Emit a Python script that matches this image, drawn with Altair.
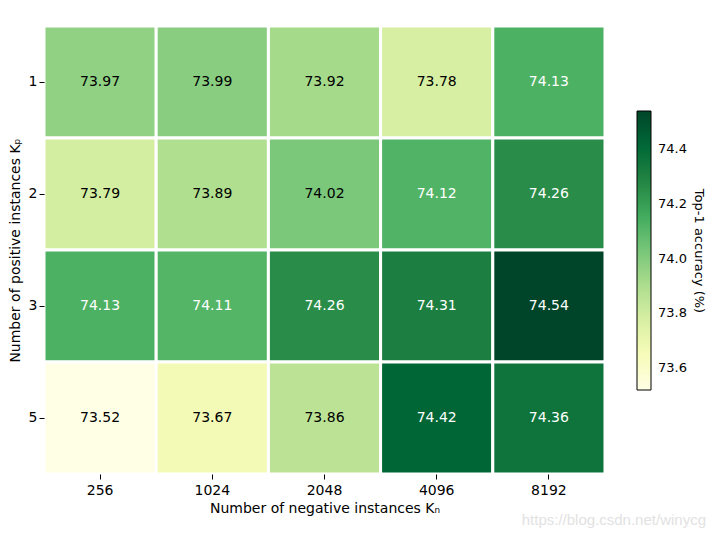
import altair as alt
import pandas as pd

negatives = ['256', '1024', '2048', '4096', '8192']
positives = ['1', '2', '3', '5']
acc_k1 = [73.97, 73.99, 73.92, 73.78, 74.13]
acc_k2 = [73.79, 73.89, 74.02, 74.12, 74.26]
acc_k3 = [74.13, 74.11, 74.26, 74.31, 74.54]
acc_k5 = [73.52, 73.67, 73.86, 74.42, 74.36]

# matplotlib YlGn
ylgn = ['#ffffe5', '#f7fcb9', '#d9f0a3', '#addd8e', '#78c679',
        '#41ab5d', '#238443', '#006837', '#004529']

rows = []
for kp, accs in zip(positives, [acc_k1, acc_k2, acc_k3, acc_k5]):
    for kn, a in zip(negatives, accs):
        rows.append({'kn': kn, 'kp': kp, 'acc': a})
data = pd.DataFrame(rows)

x_enc = alt.X(
    'kn:N',
    sort=negatives,
    title='Number of negative instances Kₙ',
    scale=alt.Scale(paddingInner=0, paddingOuter=0),
    axis=alt.Axis(labelAngle=0, domain=False, tickColor='black', labelPadding=4)
)
y_enc = alt.Y(
    'kp:N',
    sort=positives,
    title='Number of positive instances Kₚ',
    scale=alt.Scale(paddingInner=0, paddingOuter=0),
    axis=alt.Axis(domain=False, tickColor='black', labelPadding=2, titlePadding=6)
)

cells = alt.Chart(data).mark_rect(stroke='white', strokeWidth=3).encode(
    x=x_enc,
    y=y_enc,
    color=alt.Color(
        'acc:Q',
        scale=alt.Scale(range=ylgn, domain=[73.52, 74.54], interpolate='rgb'),
        legend=alt.Legend(
            title='Top-1 accuracy (%)',
            titleOrient='right',
            titleAlign='center',
            titleFontWeight='normal',
            titleFontSize=13,
            titlePadding=5,
            values=[73.6, 73.8, 74.0, 74.2, 74.4],
            format='.1f',
            gradientLength=279,
            gradientThickness=14,
            gradientStrokeColor='black',
            gradientStrokeWidth=1,
            labelFontSize=13,
            labelOffset=7,
            orient='none',
            legendX=593,
            legendY=85,
            padding=0,
        ),
    ),
)

labels = alt.Chart(data).mark_text(fontSize=14, font='DejaVu Sans').encode(
    x=alt.X('kn:N', sort=negatives),
    y=alt.Y('kp:N', sort=positives),
    text=alt.Text('acc:Q', format='.2f'),
    color=alt.condition(alt.datum.acc > 74.05, alt.value('white'), alt.value('black')),
)

watermark = alt.Chart(pd.DataFrame({'t': ['https://blog.csdn.net/winycg']})).mark_text(
    align='right', baseline='middle', fontSize=15, font='Liberation Sans', color='#e2e2e2'
).encode(
    x=alt.value(706 - 44),
    y=alt.value(520 - 26),
    text='t:N',
)

chart = (cells + labels + watermark).properties(
    width=561, height=448, padding={'top': 16, 'left': 0, 'right': 2, 'bottom': 0}
).configure(
    font='DejaVu Sans'
).configure_axis(
    labelFontSize=14,
    titleFontSize=14,
    titleFontWeight='normal',
    labelColor='black',
    titleColor='black',
    grid=False,
).configure_legend(
    labelColor='black',
    titleColor='black',
).configure_view(
    strokeOpacity=0
)

chart.save('out.html', embed_options={'renderer': 'svg', 'actions': False})
